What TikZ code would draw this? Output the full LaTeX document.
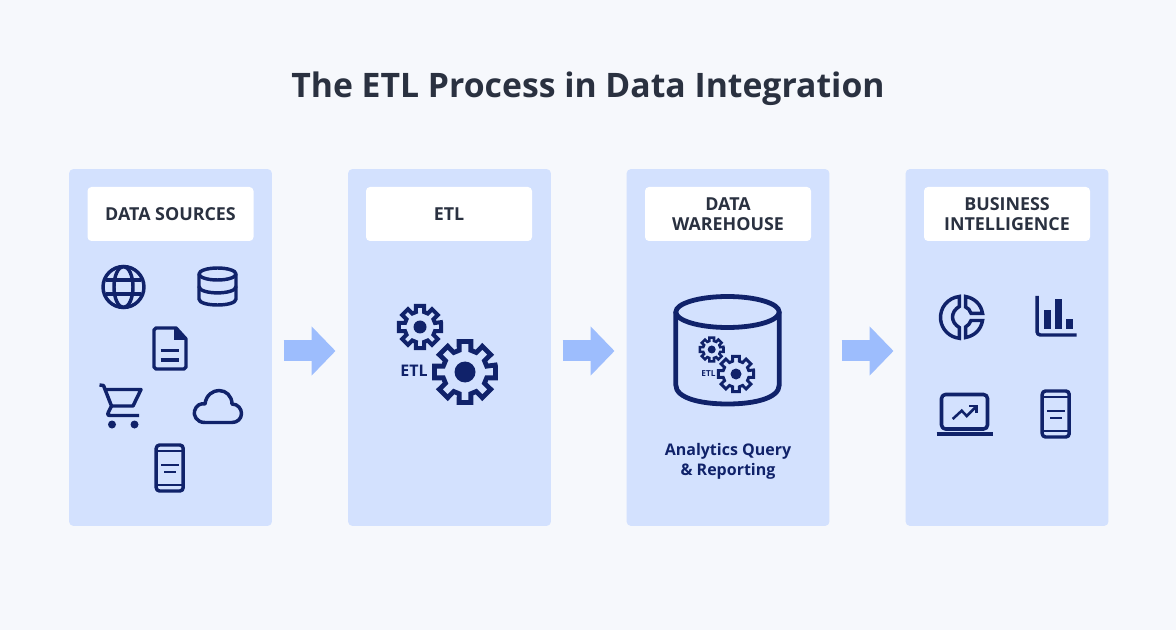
\documentclass[tikz,border=0pt]{standalone}
\usepackage{fontspec}
\setmainfont{Open Sans}
\usetikzlibrary{arrows.meta}
\definecolor{bgc}{HTML}{F6F8FC}
\definecolor{panelc}{HTML}{D3E1FE}
\definecolor{arrowc}{HTML}{9DBDFD}
\definecolor{navy}{HTML}{10226A}
\definecolor{inkc}{HTML}{2A3140}
\tikzset{
  panel/.style={fill=panelc,rounded corners=3pt,minimum width=152pt,minimum height=267.5pt,inner sep=0pt},
  header/.style={fill=white,rounded corners=3pt,minimum width=124.5pt,minimum height=40.5pt,inner sep=0pt,align=center,text=inkc,font=\fontsize{13.4pt}{15.3pt}\selectfont\bfseries},
  blockarrow/.style={draw=arrowc,line width=15.75pt,-{Triangle[length=18pt,width=36pt]}},
  ico/.style={draw=navy,line width=2.6pt,line join=round,line cap=round},
  icof/.style={fill=navy},
  navytext/.style={text=navy,inner sep=0pt,align=center,font=\fontsize{12pt}{15pt}\selectfont\bfseries}
}
% gear: cx cy outer root dot linewidth
\newcommand{\gearicon}[6]{%
  \fill[navy] (#1,#2) circle[radius=#5];
  \draw[navy,line width=#6,line join=miter] (#1,#2)
    ++(-13:#3) \foreach \a in {0,45,...,315} {
      -- ({#1+#3*cos(\a-11)},{#2+#3*sin(\a-11)})
      -- ({#1+#3*cos(\a+11)},{#2+#3*sin(\a+11)})
      -- ({#1+#4*cos(\a+15)},{#2+#4*sin(\a+15)})
      -- ({#1+#4*cos(\a+30)},{#2+#4*sin(\a+30)})
    } -- cycle;
}
\newcommand{\phoneicon}[2]{%
  \begin{scope}[shift={(#1,#2)}]
    \draw[ico,rounded corners=2.5pt] (-13.5,-23) rectangle (13.5,23);
    \draw[ico,line width=1.9pt,line cap=butt] (-13.5,-17) -- (13.5,-17) (-13.5,17) -- (13.5,17);
    \draw[ico,line width=2.2pt,line cap=butt] (-8.5,-3) -- (9,-3) (-5.5,4) -- (6.5,4);
  \end{scope}
}
\begin{document}
\begin{tikzpicture}[x=0.75pt,y=0.75pt,yscale=-1]
\fill[bgc] (0,0) rectangle (1176,630);
\useasboundingbox (0,0) rectangle (1176,630);
\node[inner sep=0pt,text=inkc,font=\fontsize{25.3pt}{30pt}\selectfont\bfseries] (title) at (588,88.5) {The ETL Process in Data Integration};
% panels
\node[panel] (p1) at (170.5,347.5) {};
\node[panel] (p2) at (449.5,347.5) {};
\node[panel] (p3) at (728,347.5) {};
\node[panel] (p4) at (1007,347.5) {};
% headers
\node[header] (h1) at (170.5,214) {DATA SOURCES};
\node[header] (h2) at (449,214) {ETL};
\node[header] (h3) at (728,214) {DATA\\WAREHOUSE};
\node[header] (h4) at (1007,214) {BUSINESS\\INTELLIGENCE};
% arrows
\coordinate (a1s) at (283.5,351); \coordinate (a1e) at (335.5,351);
\coordinate (a2s) at (562.5,351); \coordinate (a2e) at (614.5,351);
\coordinate (a3s) at (841.5,351); \coordinate (a3e) at (893.5,351);
\draw[blockarrow] (a1s) -- (a1e);
\draw[blockarrow] (a2s) -- (a2e);
\draw[blockarrow] (a3s) -- (a3e);
% globe
\draw[ico] (123.5,287) circle[radius=20.5];
\draw[ico] (123.5,287) ellipse[x radius=9.5,y radius=20.5];
\draw[ico,line cap=butt] (106,280) -- (141,280) (106,294) -- (141,294);
% database
\draw[ico] (217.5,274) ellipse[x radius=18.5,y radius=6];
\draw[ico] (199,274) -- (199,299) .. controls (199,307) and (236,307) .. (236,299) -- (236,274);
\draw[ico] (199,286.5) .. controls (199,295) and (236,295) .. (236,286.5);
% document
\draw[ico] (176,328) -- (156,328) -- (154,330) -- (154,367) -- (156,369) -- (184,369) -- (186,367) -- (186,339) -- cycle;
\fill[navy] (174,327.5) -- (187,340) -- (174,340) -- cycle;
\draw[ico,line cap=butt] (160.5,350.5) -- (179,350.5) (160.5,360) -- (179,360);
% cart
\draw[ico,line cap=butt] (99.5,385) -- (103.5,385.5) -- (111.5,406) -- (108.5,412) .. controls (107,415) and (108,415.5) .. (111,415.5) -- (139,415.5);
\draw[ico,line cap=butt] (106,389.5) -- (141,389.5) -- (133,406) -- (111.5,406);
\fill[navy] (112,424.5) circle[radius=4];
\fill[navy] (134.5,424.5) circle[radius=4];
% cloud
\draw[ico] (205,422.5) .. controls (196,422.5) and (193.5,415) .. (194.5,411) .. controls (196,405) and (201,403) .. (205,404)
  .. controls (206,395) and (213,390.5) .. (219,390.5) .. controls (226,390.5) and (232,396) .. (232,404)
  .. controls (238,404) and (241.5,409) .. (241.5,413.5) .. controls (241.5,419) and (237,422.5) .. (232,422.5) -- cycle;
\phoneicon{169.7}{468}
% ETL gears
\gearicon{420}{327}{21.5}{15.5}{6.5}{3pt}
\gearicon{465}{372}{31}{22.5}{10.5}{3.6pt}
\node[navytext] (etl) at (414,371) {ETL};
% warehouse
\draw[navy,line width=3.6pt] (727.5,312) ellipse[x radius=51.7,y radius=15.5];
\draw[navy,line width=3.6pt] (675.8,312) -- (675.8,385) .. controls (675.8,398) and (700,404) .. (727.5,404) .. controls (755,404) and (779.2,398) .. (779.2,385) -- (779.2,312);
\gearicon{711.7}{349.5}{12}{8.8}{4}{1.9pt}
\gearicon{736}{374}{18}{13.2}{5.5}{2.2pt}
\node[navytext,font=\fontsize{6.2pt}{8pt}\selectfont\bfseries] (etl2) at (708.5,373.5) {ETL};
\node[navytext] (query) at (728,461) {Analytics Query\\\& Reporting};
% pie
\draw[ico,line cap=butt,line join=miter] (959.3,296.5) arc[start angle=264,end angle=96,radius=21] -- (959.3,327.5) .. controls (955,325) and (952.5,321) .. (952.5,317) .. controls (952.5,313) and (955,309) .. (959.3,306.5) -- cycle;
\draw[ico,line cap=butt,line join=miter] (965.5,296.5) .. controls (974,298) and (981,304) .. (982.5,313.3) -- (971,313.3) .. controls (970,310) and (968,308) .. (965.5,307) -- cycle;
\draw[ico,line cap=butt,line join=miter] (982.5,320.5) -- (971,320.5) .. controls (970,323) and (968,326) .. (965.5,327) -- (965.5,337.5) .. controls (974,336) and (981,330) .. (982.5,320.5) -- cycle;
% bars
\draw[ico,line cap=butt,rounded corners=2.5pt] (1037,296) -- (1037,335) -- (1076.5,335);
\fill[navy] (1044,310) rectangle (1050.7,329.5);
\fill[navy] (1055,299) rectangle (1061.7,329.5);
\fill[navy] (1065.8,319.5) rectangle (1072.5,329.5);
% laptop
\draw[ico,rounded corners=3pt,line width=2.7pt] (941.5,394.5) rectangle (987.5,429);
\draw[ico,line cap=butt,line width=2.8pt] (936.7,434.3) -- (992.7,434.3);
\draw[ico,line width=1.9pt,line cap=butt,line join=miter] (952.7,419) -- (961.7,410.7) -- (966.7,416) -- (976.7,406);
\draw[ico,line width=1.9pt,line cap=butt,line join=miter] (969.3,406) -- (976.7,406) -- (976.7,412.7);
\phoneicon{1055.7}{414}
\end{tikzpicture}
\end{document}
